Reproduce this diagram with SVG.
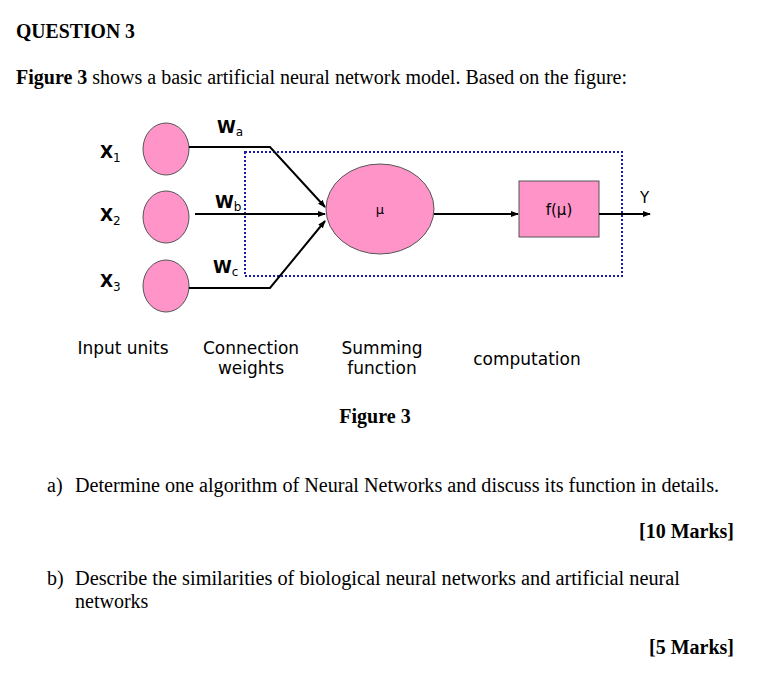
<svg xmlns="http://www.w3.org/2000/svg" width="781" height="694" viewBox="0 0 781 694">
<defs><marker id="ah" markerWidth="8" markerHeight="8" refX="7" refY="4" orient="auto" markerUnits="userSpaceOnUse"><path d="M0,1 L8,4 L0,7 Z" fill="#000"/></marker>
<style>
.s{font-family:"Liberation Serif",serif;font-size:20px;fill:#000}
.d{font-family:"DejaVu Sans",sans-serif;fill:#000}
.n{fill:#fe94c8;stroke:#555;stroke-width:1}
.c{stroke:#000;stroke-width:2;fill:none}
</style></defs>
<rect width="781" height="694" fill="#fff"/>
<text class="s" x="16" y="38" font-weight="bold" textLength="119" lengthAdjust="spacingAndGlyphs">QUESTION 3</text>
<text class="s" x="16" y="84" textLength="611" lengthAdjust="spacingAndGlyphs"><tspan font-weight="bold">Figure 3</tspan> shows a basic artificial neural network model. Based on the figure:</text>
<rect x="245" y="152" width="377" height="124" fill="none" stroke="#1a1aa8" stroke-width="2" stroke-dasharray="2,2"/>
<g id="x1"><ellipse class="n" cx="166" cy="149" rx="23" ry="26"/><text class="d" x="100" y="158" font-size="17" font-weight="bold">X<tspan font-size="12" font-weight="normal" dy="4">1</tspan></text></g>
<g id="x2"><ellipse class="n" cx="166" cy="217" rx="23" ry="26"/><text class="d" x="100" y="221" font-size="17" font-weight="bold">X<tspan font-size="12" font-weight="normal" dy="4">2</tspan></text></g>
<g id="x3"><ellipse class="n" cx="166" cy="286" rx="23" ry="26"/><text class="d" x="100" y="287" font-size="17" font-weight="bold">X<tspan font-size="12" font-weight="normal" dy="4">3</tspan></text></g>
<g id="sum"><ellipse class="n" cx="380" cy="209" rx="54" ry="45"/><text class="d" x="380" y="214" font-size="13" text-anchor="middle">μ</text></g>
<g id="f"><rect class="n" x="519" y="181" width="80" height="56"/><text class="d" x="559" y="215" font-size="15" text-anchor="middle">f(μ)</text></g>
<g id="connectors">
<path class="c" d="M189,147 L270,147 L325,207" marker-end="url(#ah)"/>
<path class="c" d="M195,214 L325,214" marker-end="url(#ah)"/>
<path class="c" d="M189,288 L270,288 L325,221" marker-end="url(#ah)"/>
<path class="c" d="M434,214 L518,214" marker-end="url(#ah)"/>
<path class="c" d="M599,214 L650,214" marker-end="url(#ah)"/>
</g>
<g class="d" font-size="17" font-weight="bold">
<text x="217" y="133">W<tspan font-size="12" font-weight="normal" dy="3">a</tspan></text>
<text x="215" y="208">W<tspan font-size="12" font-weight="normal" dy="3">b</tspan></text>
<text x="213" y="273">W<tspan font-size="12" font-weight="normal" dy="3">c</tspan></text>
</g>
<text class="d" x="640" y="203" font-size="15">Y</text>
<g class="d" font-size="17" text-anchor="middle">
<text x="123" y="354">Input units</text>
<text x="251" y="354">Connection</text><text x="251" y="374">weights</text>
<text x="382" y="354">Summing</text><text x="382" y="374">function</text>
<text x="527" y="365">computation</text>
</g>
<text class="s" x="375" y="423" text-anchor="middle" font-weight="bold">Figure 3</text>
<text class="s" x="47" y="492">a)</text>
<text class="s" x="75" y="492" textLength="644" lengthAdjust="spacingAndGlyphs">Determine one  algorithm of Neural Networks and discuss its function in details.</text>
<text class="s" x="734" y="538" text-anchor="end" font-weight="bold">[10 Marks]</text>
<text class="s" x="47" y="585">b)</text>
<text class="s" x="75" y="585" textLength="605" lengthAdjust="spacingAndGlyphs">Describe the  similarities of biological neural networks  and artificial neural</text>
<text class="s" x="75" y="608">networks</text>
<text class="s" x="734" y="654" text-anchor="end" font-weight="bold">[5 Marks]</text>
</svg>
